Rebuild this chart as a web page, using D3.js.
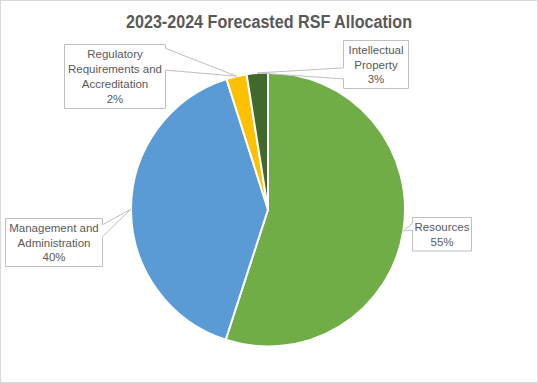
<!DOCTYPE html>
<html>
<head>
<meta charset="utf-8">
<script src="https://cdn.jsdelivr.net/npm/d3@7"></script>
<style>
  body { margin: 0; background: #fff; }
  svg { display: block; }
</style>
</head>
<body>
<svg class="chart"></svg>
<script>
// Data
var categories = ['Resources', 'Management and Administration', 'Regulatory Requirements and Accreditation', 'Intellectual Property'];
var values = [55.0, 40.1, 2.4, 2.5];
var colors = ['#70AD47', '#5B9BD5', '#FFC000', '#43682B'];
// label lines as they are broken in the chart
var labelLines = [
  ['Resources'],
  ['Management and', 'Administration'],
  ['Regulatory', 'Requirements and', 'Accreditation'],
  ['Intellectual', 'Property']
];

var width = 538, height = 383;
var cx = 268, cy = 209.5, radius = 137;

// callout boxes: x, y, w, h, side of the wedge, wedge base (fractions of height)
var boxes = [
  { x: 412.5, y: 217.5, w: 59, h: 33.5, side: 'left', b0: 0.17, b1: 0.38 },
  { x: 5.5, y: 218.5, w: 97, h: 48, side: 'right', b0: 0.13, b1: 0.38 },
  { x: 64.5, y: 44.5, w: 101, h: 64, side: 'right', b0: 0.06, b1: 0.4 },
  { x: 343.5, y: 40.5, w: 65, h: 48, side: 'left', b0: 0.57, b1: 0.8 }
];

var svg = d3.select('.chart')
    .attr('width', width)
    .attr('height', height);

svg.append('rect')
    .attr('x', 0.5).attr('y', 0.5)
    .attr('width', width - 1).attr('height', height - 1)
    .attr('fill', '#fff')
    .attr('stroke', '#D9D9D9');

svg.append('text')
    .attr('x', 269)
    .attr('y', 28)
    .attr('text-anchor', 'middle')
    .attr('font-family', 'Liberation Sans, Arial, sans-serif')
    .attr('font-weight', 'bold')
    .attr('font-size', 18)
    .attr('textLength', 286)
    .attr('lengthAdjust', 'spacingAndGlyphs')
    .attr('fill', '#595959')
    .text('2023-2024 Forecasted RSF Allocation');

var total = d3.sum(values);
var data = categories.map(function(c, i) {
  return { name: c, value: values[i], color: colors[i], lines: labelLines[i], box: boxes[i] };
});

var pie = d3.pie()
    .sort(null)
    .value(function(d) { return d.value; });

var arc = d3.arc()
    .innerRadius(0)
    .outerRadius(radius);

var arcs = pie(data);

var g = svg.append('g')
    .attr('transform', `translate(${cx}, ${cy})`);

g.selectAll('.slice')
    .data(arcs)
  .enter().append('path')
    .attr('class', 'slice')
    .attr('d', arc)
    .attr('fill', function(d) { return d.data.color; })
    .attr('stroke', '#fff')
    .attr('stroke-width', 2)
    .attr('stroke-linejoin', 'round');

// Callouts
var labels = svg.selectAll('.label')
    .data(arcs)
  .enter().append('g')
    .attr('class', 'label');

labels.append('path')
    .attr('d', function(d) {
      var b = d.data.box;
      var mid = (d.startAngle + d.endAngle) / 2;
      var tx = cx + radius * Math.sin(mid), ty = cy - radius * Math.cos(mid);
      var y0 = b.y + b.h * b.b0, y1 = b.y + b.h * b.b1;
      var p = d3.path();
      if (b.side == 'right') {
        p.moveTo(b.x, b.y);
        p.lineTo(b.x + b.w, b.y);
        p.lineTo(b.x + b.w, y0);
        p.lineTo(tx, ty);
        p.lineTo(b.x + b.w, y1);
        p.lineTo(b.x + b.w, b.y + b.h);
        p.lineTo(b.x, b.y + b.h);
      } else {
        p.moveTo(b.x, b.y);
        p.lineTo(b.x + b.w, b.y);
        p.lineTo(b.x + b.w, b.y + b.h);
        p.lineTo(b.x, b.y + b.h);
        p.lineTo(b.x, y1);
        p.lineTo(tx, ty);
        p.lineTo(b.x, y0);
      }
      p.closePath();
      return p.toString();
    })
    .attr('fill', '#fff')
    .attr('stroke', '#BFBFBF')
    .attr('stroke-width', 1);

labels.append('text')
    .attr('text-anchor', 'middle')
    .attr('font-family', 'Liberation Sans, Arial, sans-serif')
    .attr('font-size', 11.5)
    .attr('fill', '#595959')
    .each(function(d) {
      var b = d.data.box;
      var lines = d.data.lines.concat([Math.round(d.value / total * 100) + '%']);
      var lh = 14.7;
      var top = b.y + b.h / 2 - lh * lines.length / 2;
      var t = d3.select(this);
      lines.forEach(function(l, i) {
        t.append('tspan')
          .attr('x', b.x + b.w / 2)
          .attr('y', top + lh * i + lh / 2 + 4)
          .text(l);
      });
    });
</script>
</body>
</html>
